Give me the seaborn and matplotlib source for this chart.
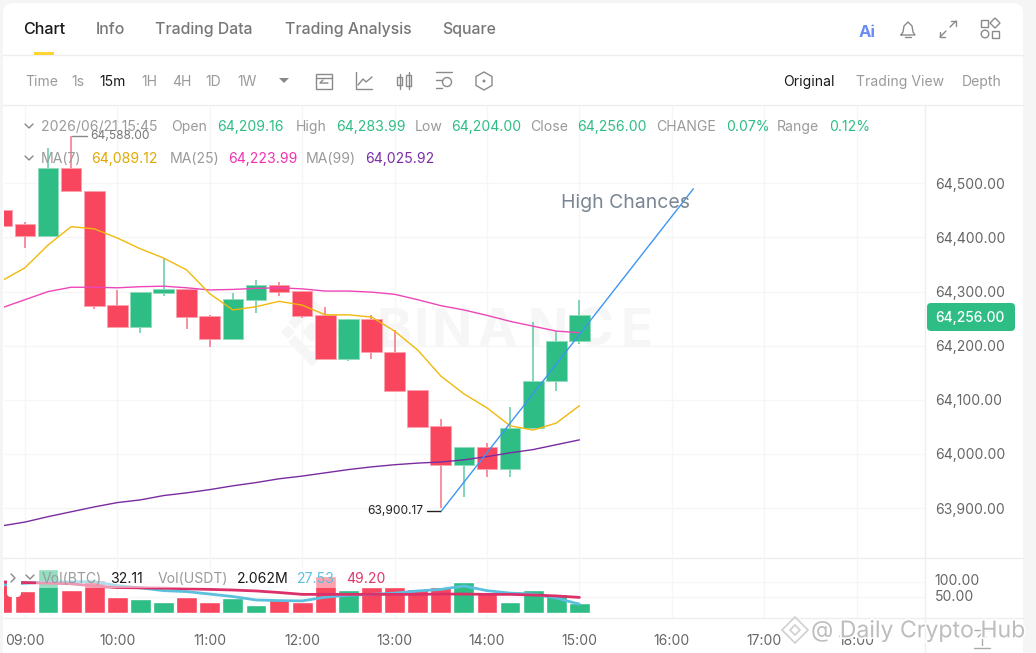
import numpy as np
import pandas as pd
import matplotlib
matplotlib.use('Agg')
import matplotlib.pyplot as plt
from matplotlib.patches import FancyBboxPatch, Rectangle, Circle, Polygon
from matplotlib.transforms import ScaledTranslation
import matplotlib.patheffects as pe
import seaborn as sns

# minutos desde las 09:00, una vela cada 15 min
minutos = [15 * k for k in range(-1, 25)]

opens = [64451, 64425, 64403, 64529, 64486, 64276, 64235, 64298, 64305, 64255, 64213, 64285, 64312,
         64301, 64256, 64176, 64249, 64189, 64119, 64052, 63980, 64013, 63972, 64048, 64135, 64209.16]
closes = [64421, 64403, 64529, 64486, 64274, 64235, 64300, 64305, 64253, 64213, 64286, 64312, 64300,
          64255, 64176, 64249, 64189, 64117, 64050, 63980, 64013, 63972, 64048, 64135, 64208, 64256]
highs = [64451, 64429, 64566, 64588, 64486, 64303, 64300, 64362, 64305, 64257, 64298, 64322, 64318,
         64301, 64272, 64249, 64257, 64229, 64119, 64065, 64013, 64020, 64087, 64243, 64227, 64283.99]
lows = [64421, 64381, 64403, 64486, 64267, 64235, 64224, 64291, 64231, 64197, 64213, 64261, 64292,
        64251, 64175, 64171, 64176, 64115, 64050, 63900.17, 63921, 63958, 63958, 64046, 64117, 64204]

ma7 = [64320, 64344, 64386, 64420, 64416, 64399, 64379, 64362, 64340, 64296, 64266, 64272, 64282,
       64275, 64257, 64257, 64253, 64227, 64192, 64144, 64111, 64085, 64052, 64044, 64057, 64089.12]
ma25 = [64270, 64285, 64300, 64308, 64308, 64307, 64309, 64310, 64307, 64303, 64304, 64306, 64307,
        64305, 64301, 64301, 64299, 64295, 64285, 64274, 64266, 64256, 64245, 64236, 64227, 64223.99]
ma99 = [63867, 63874, 63884, 63893, 63902, 63910, 63915, 63923, 63928, 63934, 63941, 63947, 63954,
        63959, 63965, 63971, 63976, 63980, 63983, 63985, 63989, 63995, 64002, 64008, 64017, 64025.92]

volumen = [105, 71, 140, 73, 105, 52, 44, 35, 51, 35, 47, 25, 44,
           35, 118, 73, 84, 83, 76, 83, 100, 64, 35, 73, 60, 32.11]
vol_ma1 = [89, 95, 99, 99, 100, 87, 80, 71, 68, 60, 52, 41, 39,
           38, 50, 56, 59, 63, 70, 75, 86, 71, 63, 60, 47, 27.53]
vol_ma2 = [99, 97, 95, 93, 86, 81, 80, 79, 77, 75, 73, 70, 65,
           59, 59, 59, 59, 59, 59, 60, 60, 59, 59, 57, 54, 49.20]

precio_ticks = [63900, 64000, 64100, 64200, 64300, 64400, 64500]
vol_ticks = [50, 100]
hora_ticks = [0, 60, 120, 180, 240, 300, 360, 420, 480, 540]
hora_labels = ['09:00', '10:00', '11:00', '12:00', '13:00', '14:00', '15:00', '16:00', '17:00', '18:00']

# linea de tendencia dibujada a mano
tendencia_t = [270, 434]
tendencia_p = [63893, 64490]

VERDE = '#2EBD85'
ROJO = '#F9465F'
GRIS = '#9a9a9a'

sns.set_theme(style='white')
plt.rcParams['font.family'] = ['Inter', 'DejaVu Sans']

W, H = 1036, 653
fig = plt.figure(figsize=(W / 100, H / 100), dpi=100, facecolor='#f5f5f5')


def caja(x0, y0, x1, y1):
    return [x0 / W, 1 - y1 / H, (x1 - x0) / W, (y1 - y0) / H]


# capa de fondo en pixeles
fondo = fig.add_axes([0, 0, 1, 1], zorder=0)
fondo.set_xlim(0, W)
fondo.set_ylim(H, 0)
fondo.axis('off')
fondo.add_patch(FancyBboxPatch((3, 3), 1020, 700, boxstyle='round,pad=0,rounding_size=10', fc='white', ec='none'))
for y in [55, 105, 558, 618]:
    fondo.plot([3, 1023], [y, y], color='#eeeeee', lw=1)
fondo.plot([925, 925], [105, 653], color='#eeeeee', lw=1)
# marca de agua de binance
for x, letra in [(394, 'B'), (421, 'I'), (452, 'N'), (497, 'A'), (548, 'N'), (594, 'C'), (637, 'E')]:
    fondo.text(x, 332, letra, fontsize=38, fontweight='bold', color='#f6f6f6', ha='center', va='center')
for cx, cy, r in [(312, 332, 10), (288, 332, 7), (336, 332, 7)]:
    fondo.add_patch(Polygon([(cx - r, cy), (cx, cy - r), (cx + r, cy), (cx, cy + r)], fc='#f6f6f6', ec='none'))
fondo.add_patch(Polygon([(312, 298), (336, 322), (329, 329), (312, 312), (295, 329), (288, 322)], fc='#f6f6f6', ec='none'))
fondo.add_patch(Polygon([(312, 366), (336, 342), (329, 335), (312, 352), (295, 335), (288, 342)], fc='#f6f6f6', ec='none'))

# velas
ax = fig.add_axes(caja(4, 106, 925, 558), zorder=1, facecolor='none')
df = pd.DataFrame({'t': minutos, 'open': opens, 'close': closes, 'high': highs, 'low': lows,
                   'ma7': ma7, 'ma25': ma25, 'ma99': ma99, 'vol': volumen, 'v1': vol_ma1, 'v2': vol_ma2})
df['color'] = np.where(df['close'] >= df['open'], VERDE, ROJO)
df['borde'] = np.where(df['close'] >= df['open'], '#8fdcbc', '#fba3af')
df['lado'] = np.where(df['close'] >= df['open'], 'sube', 'baja')

ax.vlines(df['t'], df['low'], df['high'], colors=df['color'], lw=1.3, alpha=0.65, zorder=2)
ax.bar(df['t'], df['close'] - df['open'], bottom=df['open'], width=13.4, color=df['color'],
       edgecolor=df['borde'], lw=0.6, zorder=3)
sns.lineplot(data=df, x='t', y='ma99', ax=ax, color='#7A2BA0', lw=1, zorder=4)
sns.lineplot(data=df, x='t', y='ma25', ax=ax, color='#EE46B8', lw=1, zorder=4)
sns.lineplot(data=df, x='t', y='ma7', ax=ax, color='#F0B90B', lw=1, zorder=4)
ax.plot(tendencia_t, tendencia_p, color='#3D96F0', lw=1, zorder=5)
ax.set_xlim(-13.6, 584.4)
ax.set_ylim(63807.6, 64643)
ax.set_xlabel('')
ax.set_ylabel('')
ax.set_xticks(hora_ticks)
ax.set_yticks(precio_ticks)
ax.set_yticklabels(['{:,.2f}'.format(p) for p in precio_ticks])
ax.yaxis.tick_right()
ax.tick_params(axis='x', length=0, labelbottom=False)
ax.tick_params(axis='y', length=0, pad=7, labelsize=10, labelcolor='#666666')
ax.grid(True, color='#f6f6f6', lw=1)
ax.set_axisbelow(True)
sns.despine(ax=ax, left=True, bottom=True, top=True, right=True)

# volumen (con native_scale el ancho es fraccion del paso de 15 min)
ax2 = fig.add_axes(caja(4, 558, 925, 618), zorder=1, facecolor='none')
sns.barplot(data=df, x='t', y='vol', hue='lado', palette={'sube': VERDE, 'baja': ROJO}, ax=ax2,
            native_scale=True, orient='x', dodge=False, width=0.9, legend=False, saturation=1, zorder=3)
sns.lineplot(data=df, x='t', y='v1', ax=ax2, color='#5BC0DE', lw=2, zorder=4)
sns.lineplot(data=df, x='t', y='v2', ax=ax2, color='#DC3068', lw=2, zorder=5)
ax2.set_xlim(-13.6, 584.4)
ax2.set_ylim(-17, 176)
ax2.set_xlabel('')
ax2.set_ylabel('')
ax2.set_xticks(hora_ticks)
ax2.set_xticklabels(hora_labels)
ax2.set_yticks(vol_ticks)
ax2.set_yticklabels(['{:.2f}'.format(v) for v in vol_ticks])
ax2.yaxis.tick_right()
ax2.tick_params(axis='x', length=0, pad=11.5, labelsize=10, labelcolor='#666666')
ax2.tick_params(axis='y', length=0, pad=7, labelsize=10, labelcolor='#666666')
ax2.grid(True, color='#f6f6f6', lw=1)
ax2.set_axisbelow(True)
sns.despine(ax=ax2, left=True, bottom=True, top=True, right=True)
# las etiquetas de volumen van un poco por encima de su linea
for lab in ax2.get_yticklabels():
    lab.set_transform(lab.get_transform() + ScaledTranslation(0, 1.5 / 72, fig.dpi_scale_trans))

# capa de textos e iconos
ui = fig.add_axes([0, 0, 1, 1], zorder=3, facecolor='none')
ui.set_xlim(0, W)
ui.set_ylim(H, 0)
ui.axis('off')


def texto(x, y, s, color=GRIS, size=10.1, **kw):
    # y es el centro de las mayusculas, alineado por la linea base
    return ui.text(x, y + size * 0.5, s, color=color, fontsize=size, va='baseline', ha=kw.pop('ha', 'left'), **kw)


def chevron(x, y, color='#888888'):
    ui.plot([x - 4, x, x + 4], [y - 2, y + 2, y - 2], color=color, lw=1)


# pestanas
texto(23, 28.5, 'Chart', '#1a1a1a', 11.6, fontweight='medium')
for x, s in [(96, 'Info'), (155, 'Trading Data'), (285, 'Trading Analysis'), (442, 'Square')]:
    texto(x, 28.5, s, '#777777', 11.4, fontweight='medium')
ui.add_patch(Rectangle((34, 52), 20, 3, fc='#FCD535', ec='none'))

# barra de herramientas
for x, s, c in [(25, 'Time', GRIS), (71, '1s', GRIS), (99, '15m', '#1a1a1a'), (141, '1H', GRIS),
                (172, '4H', GRIS), (205, '1D', GRIS), (237, '1W', GRIS),
                (783, 'Original', '#1a1a1a'), (856, 'Trading View', GRIS), (962, 'Depth', GRIS)]:
    texto(x, 81, s, c)
ui.add_patch(Polygon([(279, 78), (289, 78), (284, 83)], fc='#888888', ec='none'))

icono = {'fc': 'none', 'ec': '#8a8a8a', 'lw': 1}
ui.add_patch(Rectangle((316, 74), 16, 15, **icono))
ui.plot([316, 332], [78, 78], color='#8a8a8a', lw=1)
ui.plot([328, 320, 323], [83, 83, 80], color='#8a8a8a', lw=1)
ui.plot([356, 356, 372], [72, 89, 89], color='#8a8a8a', lw=1)
ui.plot([358, 363, 366, 372], [85, 79, 82, 77], color='#8a8a8a', lw=1)
ui.add_patch(Rectangle((397, 77), 5, 8, **icono))
ui.add_patch(Rectangle((406, 75), 5, 11, **icono))
ui.plot([399.5, 399.5], [74, 89], color='#8a8a8a', lw=1)
ui.plot([408.5, 408.5], [72, 89], color='#8a8a8a', lw=1)
ui.plot([436, 452], [72, 72], color='#8a8a8a', lw=1)
ui.plot([436, 442], [80, 80], color='#8a8a8a', lw=1)
ui.plot([436, 442], [88, 88], color='#8a8a8a', lw=1)
ui.add_patch(Circle((447, 82), 4.5, **icono))
ui.add_patch(Polygon([(484, 72), (492, 76.5), (492, 85.5), (484, 90), (476, 85.5), (476, 76.5)], **icono))
ui.add_patch(Circle((484, 81), 1.5, fc='#8a8a8a', ec='none'))

# iconos superiores derecha
texto(859, 31, 'Ai', '#6C8CF5', 12, fontweight='bold')
ui.plot([901, 903, 904, 908, 912, 913, 915, 901], [35, 32, 26, 22, 26, 32, 35, 35], color='#8a8a8a', lw=1)
ui.plot([905, 911], [37, 37], color='#8a8a8a', lw=1)
ui.plot([940, 946], [37, 31], color='#8a8a8a', lw=1)
ui.plot([950, 956], [27, 21], color='#8a8a8a', lw=1)
ui.plot([940, 940, 945], [32, 37, 37], color='#8a8a8a', lw=1)
ui.plot([951, 956, 956], [21, 21, 26], color='#8a8a8a', lw=1)
ui.add_patch(Rectangle((981, 20), 7, 7, **icono))
ui.add_patch(Polygon([(995, 18), (1000, 23), (995, 28), (990, 23)], **icono))
ui.add_patch(Circle((985, 34), 3.8, **icono))
ui.add_patch(Rectangle((992, 31), 7, 7, **icono))

# leyenda de precios
chevron(29, 126)
chevron(29, 158)
for x, s, c in [(41, '2026/06/21 15:45', GRIS), (171, 'Open', GRIS), (217, '64,209.16', VERDE),
                (296, 'High', GRIS), (336, '64,283.99', VERDE), (415, 'Low', GRIS), (451, '64,204.00', VERDE),
                (530, 'Close', GRIS), (577, '64,256.00', VERDE), (656, 'CHANGE', GRIS), (726, '0.07%', VERDE),
                (777, 'Range', GRIS), (829, '0.12%', VERDE)]:
    texto(x, 126, s, c)
for x, s, c in [(41, 'MA(7)', GRIS), (91, '64,089.12', '#E0A800'), (170, 'MA(25)', GRIS),
                (228, '64,223.99', '#F032AF'), (306, 'MA(99)', GRIS), (365, '64,025.92', '#7B2DA8')]:
    texto(x, 158, s, c)

# maximo y minimo
ui.plot([72, 87], [135.5, 135.5], color='#888888', lw=1)
texto(90, 135, '64,588.00', '#777777', 8.6)
ui.plot([427, 440], [510.5, 510.5], color='#222222', lw=1)
texto(367, 509.5, '63,900.17', '#222222', 8.6)
texto(561, 201, 'High Chances', '#7A8694', 14)

# etiqueta del ultimo precio
ui.add_patch(FancyBboxPatch((927, 303), 88, 28, boxstyle='round,pad=0,rounding_size=4', fc=VERDE, ec='none'))
texto(970, 317, '64,256.00', 'white', 9.9, ha='center', fontweight='medium')

# leyenda de volumen
ui.add_patch(Rectangle((36, 568), 320, 20, fc='white', ec='none', alpha=0.5))
ui.add_patch(FancyBboxPatch((7, 559), 14, 38, boxstyle='round,pad=0,rounding_size=4', fc='white', ec='none'))
ui.plot([11, 15, 11], [574, 578, 582], color='#888888', lw=1)
chevron(30, 577)
for x, s, c in [(42, 'Vol(BTC)', GRIS), (110, '32.11', '#1a1a1a'), (158, 'Vol(USDT)', GRIS),
                (237, '2.062M', '#1a1a1a'), (297, '27.53', '#5BC0DE'), (346, '49.20', '#E0386C')]:
    texto(x, 578, s, c)

# marca de agua inferior
m = texto(811, 629, '@ Daily Crypto Hub', '#bdbdbd', 16.6)
m.set_path_effects([pe.withStroke(linewidth=2.5, foreground='white')])
ui.add_patch(Polygon([(795, 617), (808, 630), (795, 643), (782, 630)], fc='none', ec='#d0d0d0', lw=1.2))
ui.add_patch(Polygon([(795, 625), (800, 630), (795, 635), (790, 630)], fc='none', ec='#d0d0d0', lw=1.2))
ui.plot([974, 990], [630, 630], color='#aaaaaa', lw=1)
ui.plot([974, 990], [648, 648], color='#aaaaaa', lw=1)
ui.plot([982, 982], [633, 645], color='#aaaaaa', lw=1)
ui.plot([978, 982, 986], [637, 633, 637], color='#aaaaaa', lw=1)

fig.savefig('out.png', dpi=100, facecolor=fig.get_facecolor())
